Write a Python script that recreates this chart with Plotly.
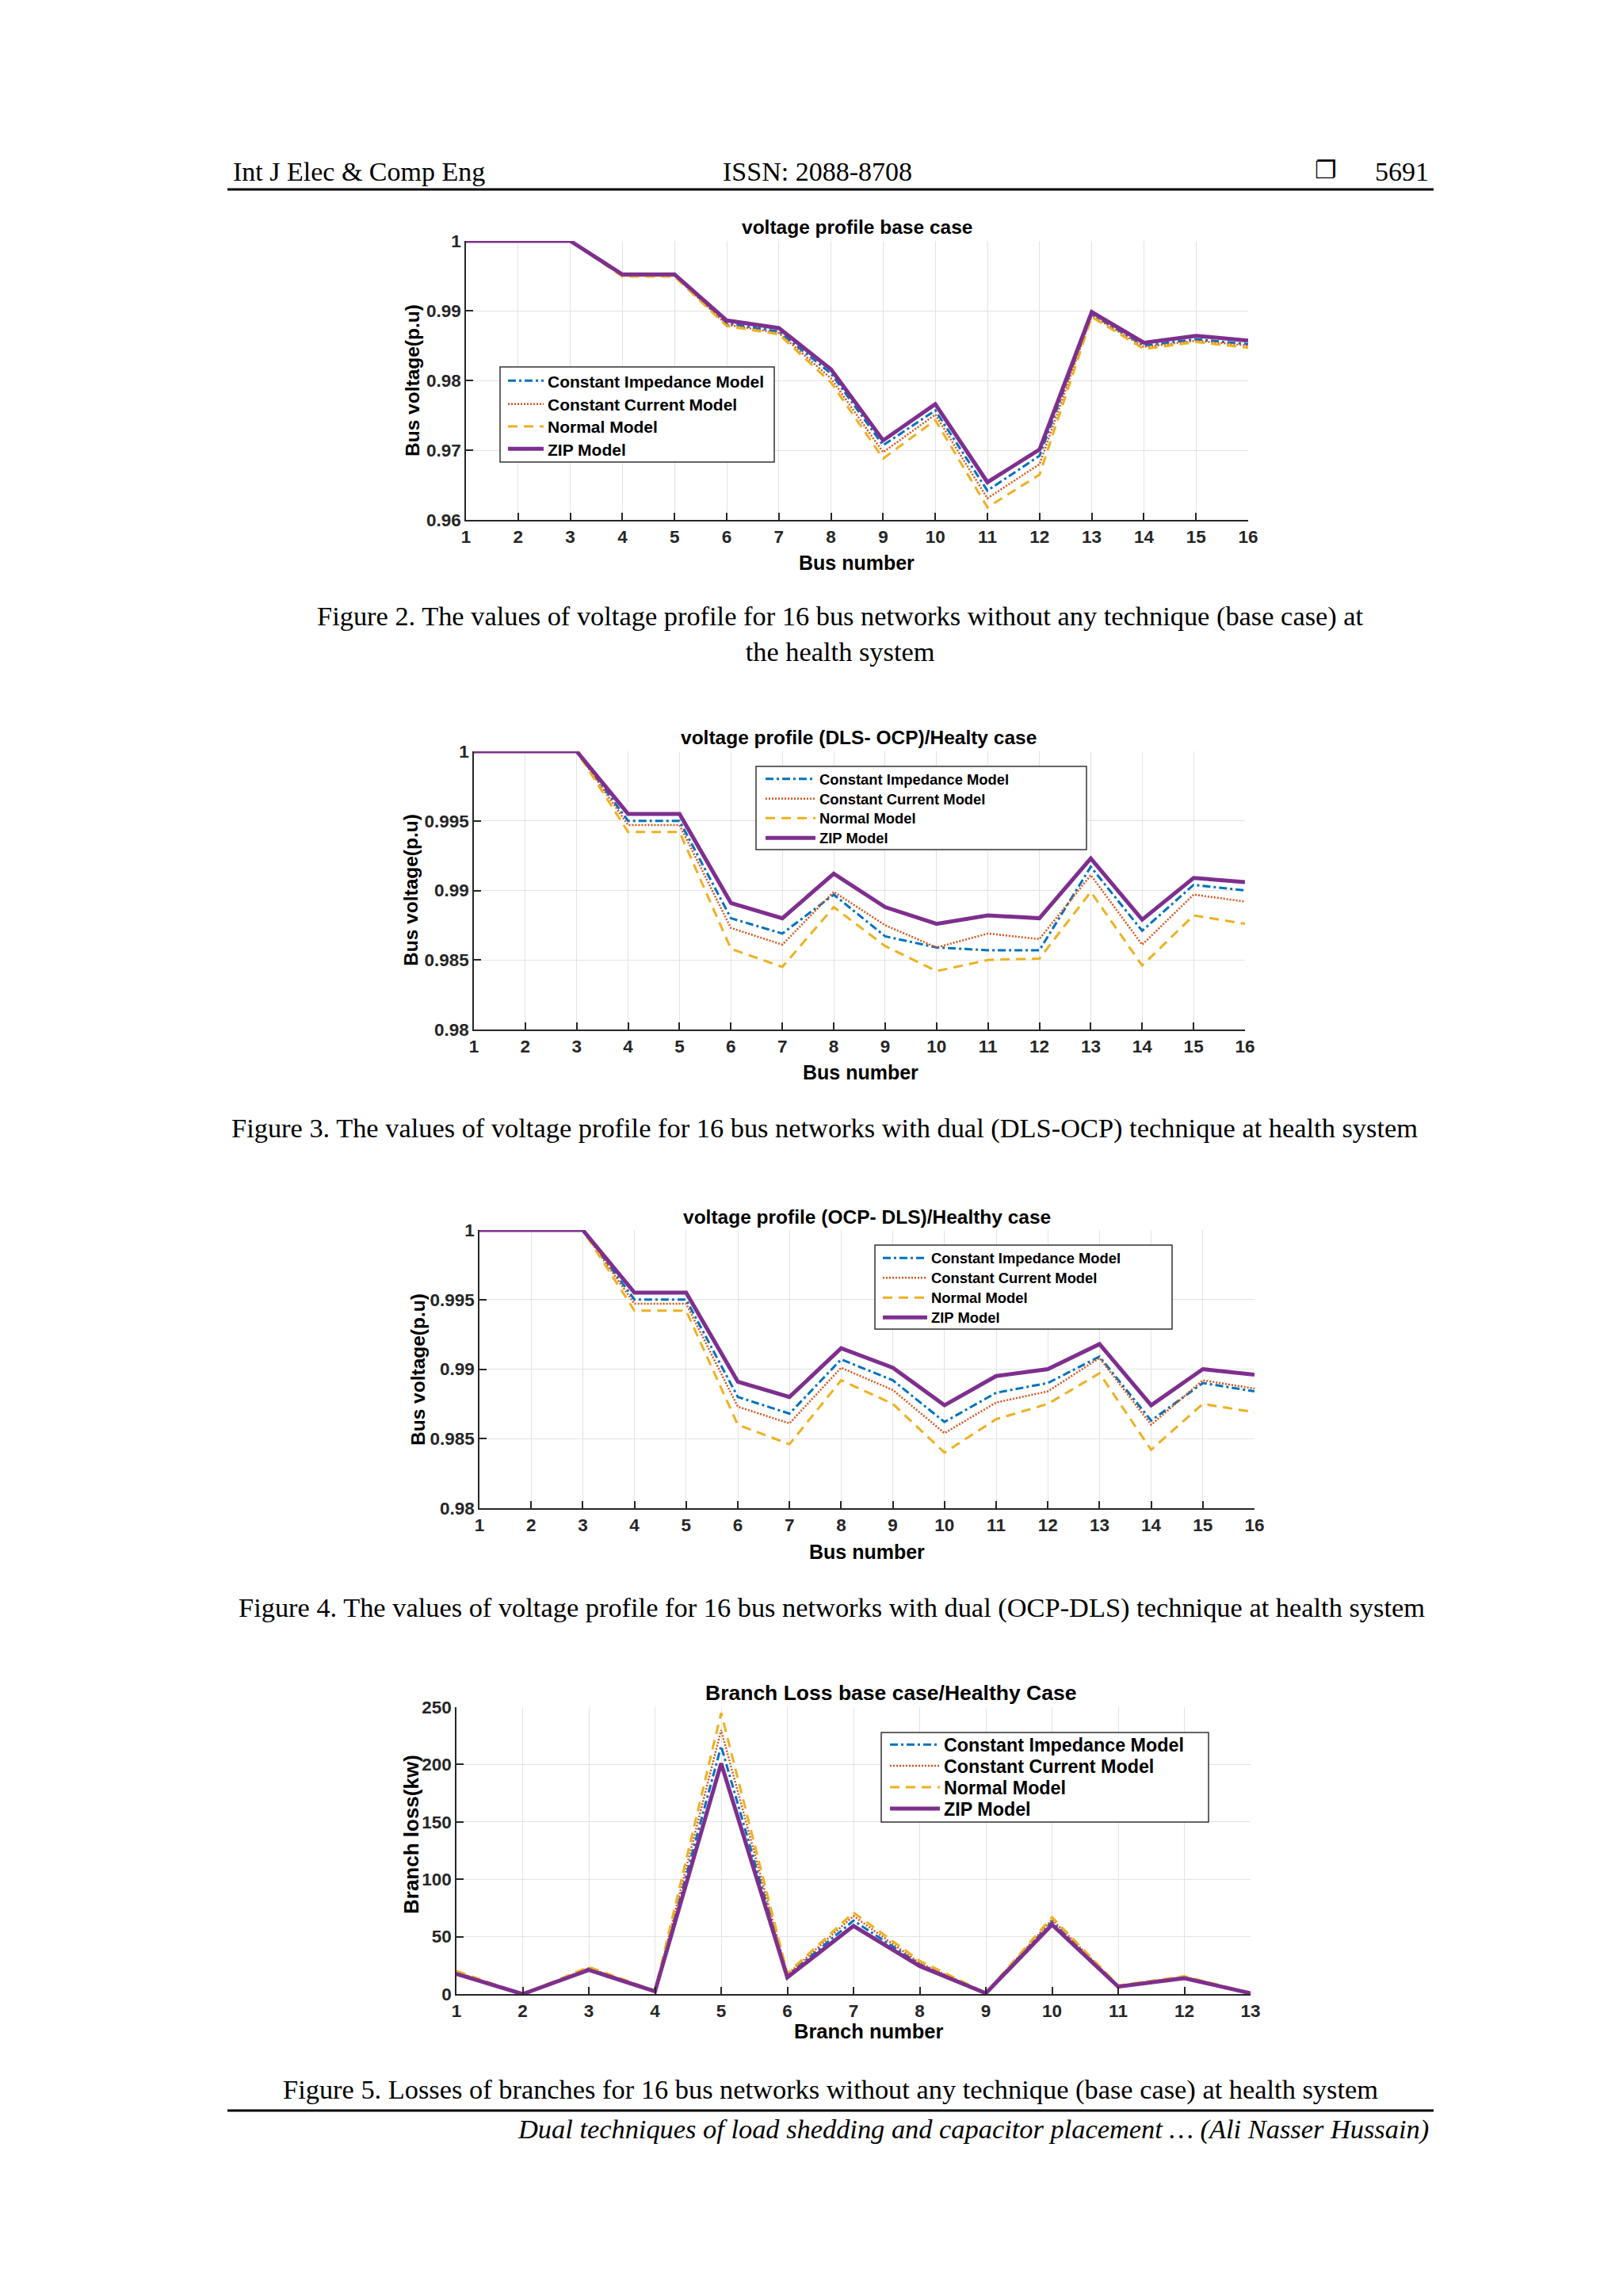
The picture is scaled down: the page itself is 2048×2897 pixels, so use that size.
import plotly.graph_objects as go

W, H = 2048, 2897

# ---------------- data ----------------
series_names = ["Constant Impedance Model", "Constant Current Model", "Normal Model", "ZIP Model"]
bus = [1, 2, 3, 4, 5, 6, 7, 8, 9, 10, 11, 12, 13, 14, 15, 16]
branch = [1, 2, 3, 4, 5, 6, 7, 8, 9, 10, 11, 12, 13]

# Figure 2: base case
f2_impedance = [1, 1, 1, 0.9951, 0.9951, 0.9882, 0.9870, 0.9810, 0.9707, 0.9757, 0.9642, 0.9692, 0.9895, 0.9850, 0.9859, 0.9852]
f2_current = [1, 1, 1, 0.9950, 0.9950, 0.9880, 0.9868, 0.9803, 0.9697, 0.9751, 0.9631, 0.9680, 0.9893, 0.9848, 0.9857, 0.9850]
f2_normal = [1, 1, 1, 0.9949, 0.9949, 0.9878, 0.9866, 0.9797, 0.9688, 0.9743, 0.9618, 0.9665, 0.9891, 0.9845, 0.9855, 0.9847]
f2_zip = [1, 1, 1, 0.9952, 0.9952, 0.9886, 0.9875, 0.9816, 0.9714, 0.9766, 0.9654, 0.9701, 0.9898, 0.9854, 0.9864, 0.9857]

# Figure 3: DLS-OCP
f3_impedance = [1, 1, 1, 0.9950, 0.9950, 0.9880, 0.9869, 0.9897, 0.9867, 0.9859, 0.9857, 0.9857, 0.9917, 0.9871, 0.9904, 0.9900]
f3_current = [1, 1, 1, 0.9947, 0.9947, 0.9873, 0.9861, 0.9899, 0.9875, 0.9859, 0.9869, 0.9865, 0.9911, 0.9861, 0.9897, 0.9892]
f3_normal = [1, 1, 1, 0.9942, 0.9942, 0.9858, 0.9845, 0.9888, 0.9860, 0.9842, 0.9850, 0.9851, 0.9899, 0.9846, 0.9882, 0.9876]
f3_zip = [1, 1, 1, 0.9955, 0.9955, 0.9891, 0.9880, 0.9912, 0.9888, 0.9876, 0.9882, 0.9880, 0.9923, 0.9879, 0.9909, 0.9906]

# Figure 4: OCP-DLS
f4_impedance = [1, 1, 1, 0.9950, 0.9950, 0.9880, 0.9868, 0.9907, 0.9892, 0.9862, 0.9883, 0.9890, 0.9909, 0.9863, 0.9890, 0.9884]
f4_current = [1, 1, 1, 0.9947, 0.9947, 0.9873, 0.9861, 0.9901, 0.9885, 0.9854, 0.9876, 0.9884, 0.9908, 0.9860, 0.9892, 0.9886]
f4_normal = [1, 1, 1, 0.9942, 0.9942, 0.9860, 0.9846, 0.9892, 0.9875, 0.9840, 0.9864, 0.9875, 0.9897, 0.9842, 0.9875, 0.9869]
f4_zip = [1, 1, 1, 0.9955, 0.9955, 0.9891, 0.9880, 0.9915, 0.9901, 0.9874, 0.9895, 0.9900, 0.9918, 0.9874, 0.9900, 0.9896]

# Figure 5: branch loss (kW)
f5_impedance = [18.5, 0, 22, 2.5, 216, 16, 64, 26, 0.8, 63, 6.8, 14.5, 0.8]
f5_current = [19, 0, 22.5, 2.7, 230, 17, 68, 27, 0.9, 65, 7.2, 15, 0.9]
f5_normal = [20, 0, 23.5, 3, 245, 18, 71, 29, 1, 67, 7.5, 15.5, 1]
f5_zip = [17.5, 0, 21, 2.3, 201, 14.5, 59.4, 24.4, 0.7, 60.5, 6.4, 13.8, 0.7]

v1_ticks = [0.96, 0.97, 0.98, 0.99, 1]
v1_labels = ["0.96", "0.97", "0.98", "0.99", "1"]
v2_ticks = [0.98, 0.985, 0.99, 0.995, 1]
v2_labels = ["0.98", "0.985", "0.99", "0.995", "1"]
loss_ticks = [0, 50, 100, 150, 200, 250]
loss_labels = ["0", "50", "100", "150", "200", "250"]

# ---------------- styling ----------------
colors = ["#0072BD", "#D95319", "#EDB120", "#7E2F8E"]
dashes = ["10px,4px,3px,4px", "2px,2px", "12px,8px", "solid"]
widths = [3, 2.5, 3, 5]
SANS = "Liberation Sans, Arial, sans-serif"
SERIF = "Liberation Serif, Times New Roman, serif"


def px(x):
    return x / W


def py(y):
    return 1 - y / H


fig = go.Figure()

# plot areas in page pixels: (left, right, top, bottom)
# legend: (x, entry centre ys, font size, item width, box x0, x1, y0, y1)
panels = [
    dict(box=(588, 1575, 304, 656), x=bus, ys=[f2_impedance, f2_current, f2_normal, f2_zip],
         ticks=(v1_ticks, v1_labels), yr=[0.96, 1], xr=[1, 16], fs=22.5,
         legend=(636, [480.7, 510, 538.3, 566.7], 21, 45, (631, 977, 463, 583))),
    dict(box=(598, 1571, 948, 1299), x=bus, ys=[f3_impedance, f3_current, f3_normal, f3_zip],
         ticks=(v2_ticks, v2_labels), yr=[0.98, 1], xr=[1, 16], fs=22.5,
         legend=(961, [982.7, 1007.7, 1032.3, 1057.3], 18.4, 63, (954, 1371, 967, 1072))),
    dict(box=(605, 1583, 1552, 1903), x=bus, ys=[f4_impedance, f4_current, f4_normal, f4_zip],
         ticks=(v2_ticks, v2_labels), yr=[0.98, 1], xr=[1, 16], fs=22.5,
         legend=(1109, [1587.3, 1612.3, 1637.3, 1662.3], 18.4, 56, (1104, 1479, 1571, 1677))),
    dict(box=(576, 1578, 2154, 2516), x=branch, ys=[f5_impedance, f5_current, f5_normal, f5_zip],
         ticks=(loss_ticks, loss_labels), yr=[0, 250], xr=[1, 13], fs=22.5,
         legend=(1118, [2201.7, 2228.3, 2255.3, 2282.3], 23.3, 63, (1112, 1525, 2186, 2299))),
]

shapes = []
legend_count = 0

for i, p in enumerate(panels):
    n = "" if i == 0 else str(i + 1)
    l, r, t, b = p["box"]
    lx, lys, lfs, iw, (bx0, bx1, by0, by1) = p["legend"]
    for k in range(4):
        legend_count += 1
        lg = "legend" if legend_count == 1 else "legend%d" % legend_count
        fig.add_trace(go.Scatter(
            x=p["x"], y=p["ys"][k], mode="lines", name=series_names[k],
            line=dict(color=colors[k], dash=dashes[k], width=widths[k]),
            xaxis="x" + n, yaxis="y" + n, legend=lg, cliponaxis=False, showlegend=True,
        ))
        fig.update_layout(**{lg: dict(
            x=px(lx), y=py(lys[k]), xref="paper", yref="paper", xanchor="left", yanchor="middle",
            bgcolor="rgba(0,0,0,0)", borderwidth=0,
            font=dict(family=SANS, size=lfs, color="black", weight="bold"),
            itemwidth=iw, tracegroupgap=0,
        )})
    axis_common = dict(showgrid=True, gridcolor="#E3E3E3", gridwidth=1, zeroline=False,
                       showline=True, linecolor="#262626", linewidth=1.5,
                       ticks="inside", ticklen=9, tickcolor="#262626", tickwidth=1.5,
                       tickfont=dict(family=SANS, size=p["fs"], color="#262626", weight="bold"),
                       mirror=False, automargin=False)
    fig.update_layout(**{
        "xaxis" + n: dict(domain=[px(l), px(r)], anchor="y" + n, range=p["xr"],
                          tickvals=p["x"], ticktext=[str(v) for v in p["x"]], **axis_common),
        "yaxis" + n: dict(domain=[py(b), py(t)], anchor="x" + n, range=p["yr"],
                          tickvals=p["ticks"][0], ticktext=p["ticks"][1], **axis_common),
    })
    shapes.append(dict(type="rect", xref="paper", yref="paper", layer="above",
                       x0=px(bx0), x1=px(bx1), y0=py(by1), y1=py(by0),
                       fillcolor="white", line=dict(color="#333333", width=1.5)))

annotations = []


def txt(x, y, s, size, family=SANS, bold=False, italic=False, xanchor="center", angle=0, color="black"):
    annotations.append(dict(
        x=px(x), y=py(y), xref="paper", yref="paper", text=s, showarrow=False,
        xanchor=xanchor, yanchor="middle", textangle=angle,
        font=dict(family=family, size=size, color=color, weight="bold" if bold else "normal",
                  style="italic" if italic else "normal"),
    ))


# chart titles
txt(1081, 287, "voltage profile base case", 24.5, bold=True)
txt(1083, 931, "voltage profile (DLS- OCP)/Healty case", 24.5, bold=True)
txt(1094, 1535, "voltage profile (OCP- DLS)/Healthy case", 24.5, bold=True)
txt(1124, 2136, "Branch Loss base case/Healthy Case", 26.5, bold=True)
# x axis titles
txt(1081, 710, "Bus number", 25, bold=True)
txt(1086, 1353, "Bus number", 25, bold=True)
txt(1094, 1958, "Bus number", 25, bold=True)
txt(1096, 2563, "Branch number", 25.5, bold=True)
# y axis titles
txt(521, 480, "Bus voltage(p.u)", 24.5, bold=True, angle=-90)
txt(518, 1123, "Bus voltage(p.u)", 24.5, bold=True, angle=-90)
txt(527, 1728, "Bus voltage(p.u)", 24.5, bold=True, angle=-90)
txt(519, 2315, "Branch loss(kw)", 26, bold=True, angle=-90)

# page header / captions / footer
txt(292, 216, "Int J Elec &amp; Comp Eng", 34, family=SERIF, xanchor="left")
txt(1031, 216, "ISSN: 2088-8708", 34, family=SERIF)
txt(1673, 214, "❐", 31, family="DejaVu Sans")
txt(1805, 216, "5691", 34, family=SERIF, xanchor="right")
txt(1060, 800, "Figure 2. The values of voltage profile for 16 bus networks without any technique (base case) at<br>the health system", 34.4, family=SERIF)
txt(1040, 1423, "Figure 3. The values of voltage profile for 16 bus networks with dual (DLS-OCP) technique at health system", 34.4, family=SERIF)
txt(1049, 2028, "Figure 4. The values of voltage profile for 16 bus networks with dual (OCP-DLS) technique at health system", 34.4, family=SERIF)
txt(1048, 2636, "Figure 5. Losses of branches for 16 bus networks without any technique (base case) at health system", 34.4, family=SERIF)
txt(1805, 2686, "Dual techniques of load shedding and capacitor placement … (Ali Nasser Hussain)", 34.4, family=SERIF, italic=True, xanchor="right")

shapes += [
    dict(type="line", xref="paper", yref="paper", x0=px(287), x1=px(1809), y0=py(239), y1=py(239),
         line=dict(color="black", width=3)),
    dict(type="line", xref="paper", yref="paper", x0=px(287), x1=px(1809), y0=py(2663), y1=py(2663),
         line=dict(color="black", width=3)),
]

fig.update_layout(
    width=W, height=H, margin=dict(l=0, r=0, t=0, b=0, pad=0, autoexpand=False),
    paper_bgcolor="white", plot_bgcolor="white", showlegend=True,
    annotations=annotations, shapes=shapes,
)

fig.write_html("out.html", config={"displayModeBar": False},
               post_script="document.body.style.margin='0';document.body.style.overflow='hidden';")
